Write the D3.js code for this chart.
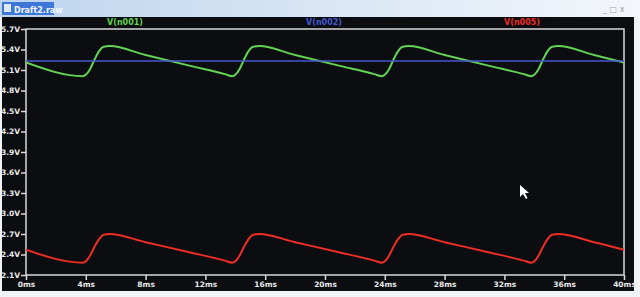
<!DOCTYPE html>
<html>
<head>
<meta charset="utf-8">
<script src="https://cdn.jsdelivr.net/npm/d3@7"></script>
<style>
  body { margin: 0; background: #f2f3f5; }
  svg { display: block; }
  .tick text { font-family: "DejaVu Sans", sans-serif; font-weight: bold; fill: #e8e8e8; }
</style>
</head>
<body>
<script>
// waveform samples (time in ms, volts)
const times = [0, 3.8, 4.0, 4.3, 4.6, 4.9, 5.2, 5.6, 8, 11, 13.3,
  13.8, 14.0, 14.3, 14.6, 14.9, 15.2, 15.6, 18, 21, 23.3,
  23.8, 24.0, 24.3, 24.6, 24.9, 25.2, 25.6, 28, 31, 33.3,
  33.8, 34.0, 34.3, 34.6, 34.9, 35.2, 35.6, 38, 40];
const vN001 = [5.21, 5.01, 5.03, 5.12, 5.26, 5.38, 5.44, 5.45, 5.32, 5.16, 5.04,
  5.01, 5.03, 5.12, 5.26, 5.38, 5.44, 5.45, 5.32, 5.16, 5.04,
  5.01, 5.03, 5.12, 5.26, 5.38, 5.44, 5.45, 5.32, 5.16, 5.04,
  5.01, 5.03, 5.12, 5.26, 5.38, 5.44, 5.45, 5.32, 5.21];
const vN002 = [5.23, 5.23];
const tN002 = [0, 40];
const vN005 = [2.47, 2.28, 2.30, 2.39, 2.52, 2.63, 2.69, 2.70, 2.58, 2.43, 2.31,
  2.28, 2.30, 2.39, 2.52, 2.63, 2.69, 2.70, 2.58, 2.43, 2.31,
  2.28, 2.30, 2.39, 2.52, 2.63, 2.69, 2.70, 2.58, 2.43, 2.31,
  2.28, 2.30, 2.39, 2.52, 2.63, 2.69, 2.70, 2.58, 2.47];
const yTicks = [2.1, 2.4, 2.7, 3.0, 3.3, 3.6, 3.9, 4.2, 4.5, 4.8, 5.1, 5.4, 5.7];
const xTicks = [0, 4, 8, 12, 16, 20, 24, 28, 32, 36, 40];
const seriesNames = ['V(n001)', 'V(n002)', 'V(n005)'];
const seriesColors = ['#62d352', '#4658d0', '#ee2e24'];

const W = 640, H = 297;
const margin = { top: 29, right: 16, bottom: 21, left: 26 };

const svg = d3.select('body').append('svg')
  .attr('width', W).attr('height', H);

// window chrome
const grad = svg.append('defs').append('linearGradient')
  .attr('id', 'tbar').attr('x1', 0).attr('x2', 1);
grad.append('stop').attr('offset', '0%').attr('stop-color', '#bcd4ee');
grad.append('stop').attr('offset', '100%').attr('stop-color', '#f4f7fb');
svg.append('rect').attr('width', W).attr('height', 17).attr('fill', 'url(#tbar)');
svg.append('rect').attr('x', 2).attr('y', 2).attr('width', 52).attr('height', 13).attr('fill', '#3d78d8');
svg.append('rect').attr('x', 4).attr('y', 4).attr('width', 7).attr('height', 8).attr('fill', '#dfe8f5');
svg.append('text').attr('x', 14).attr('y', 12.5).text('Draft2.raw')
  .attr('font-family', 'DejaVu Sans').attr('font-size', 8).attr('font-weight', 'bold').attr('fill', '#f4f7ff');
svg.append('text').attr('x', 603).attr('y', 12).text('_ □ x')
  .attr('font-family', 'DejaVu Sans').attr('font-size', 8).attr('fill', '#9aa3ad');
svg.append('rect').attr('x', 2).attr('y', 17).attr('width', 632).attr('height', 274).attr('fill', '#0b0d10');

const x = d3.scaleLinear().domain([0, 40]).range([margin.left, W - margin.right]);
const y = d3.scaleLinear().domain([2.1, 5.7]).range([H - margin.bottom - 1, margin.top]);

// plot frame
svg.append('rect')
  .attr('x', x(0)).attr('y', y(5.7))
  .attr('width', x(40) - x(0)).attr('height', y(2.1) - y(5.7))
  .attr('fill', 'none').attr('stroke', '#d8d8d8').attr('stroke-width', 1.5);

svg.append('g')
  .attr('transform', `translate(0,${y(2.1)})`)
  .call(d3.axisBottom(x).tickValues(xTicks).tickSize(5).tickFormat((d) => `${d}ms`))
  .call((g) => g.select('.domain').remove())
  .call((g) => g.selectAll('line').attr('stroke', '#d8d8d8').attr('stroke-width', 1.5))
  .call((g) => g.selectAll('text').attr('font-size', 7.5).attr('dy', '0.55em'));

svg.append('g')
  .attr('transform', `translate(${x(0)},0)`)
  .call(d3.axisLeft(y).tickValues(yTicks).tickSize(5).tickPadding(0).tickFormat((d) => `${d.toFixed(1)}V`))
  .call((g) => g.select('.domain').remove())
  .call((g) => g.selectAll('line').attr('stroke', '#d8d8d8').attr('stroke-width', 1.5))
  .call((g) => g.selectAll('text').attr('font-size', 7.5).attr('text-anchor', 'start').attr('x', -25));

// traces
const clip = svg.append('clipPath').attr('id', 'plot').append('rect')
  .attr('x', x(0)).attr('y', y(5.7)).attr('width', x(40) - x(0)).attr('height', y(2.1) - y(5.7));

const line = d3.line().curve(d3.curveMonotoneX);
const traces = [
  { t: times, v: vN001 },
  { t: tN002, v: vN002 },
  { t: times, v: vN005 },
];
traces.forEach((s, i) => {
  svg.append('path')
    .attr('d', line(s.t.map((t, j) => [x(t), y(s.v[j])])))
    .attr('fill', 'none')
    .attr('stroke', seriesColors[i])
    .attr('stroke-width', i === 1 ? 1.5 : 2)
    .attr('clip-path', 'url(#plot)');
});

// trace names above the plot
const labelX = [125, 324, 522];
seriesNames.forEach((n, i) => {
  svg.append('text')
    .attr('x', labelX[i]).attr('y', 25)
    .attr('text-anchor', 'middle')
    .attr('font-family', 'DejaVu Sans').attr('font-size', 8).attr('font-weight', 'bold')
    .attr('fill', seriesColors[i])
    .text(n);
});

// mouse pointer
svg.append('path')
  .attr('d', 'M520,185 L520,197 L523,194 L526,199 L527.5,198 L525,193 L529,193 Z')
  .attr('fill', '#ffffff');
</script>
</body>
</html>
